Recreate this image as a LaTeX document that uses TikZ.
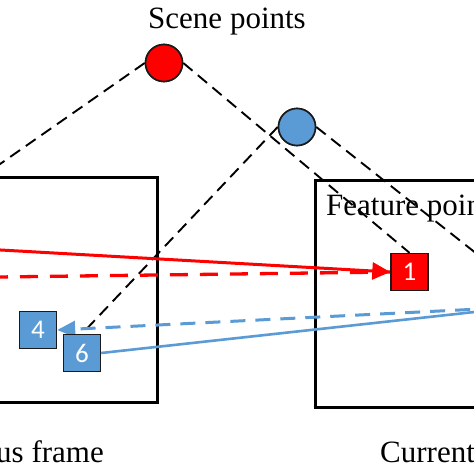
\documentclass[tikz,border=0pt]{standalone}
\usepackage{fontspec}
\setmainfont{Liberation Serif}
\newfontfamily\digitfont{Carlito}
\usetikzlibrary{arrows.meta}
\definecolor{myred}{HTML}{FF0000}
\definecolor{myblue}{HTML}{5B9BD5}
\definecolor{edgegray}{HTML}{1A1A1A}
\begin{document}
\begin{tikzpicture}[x=1pt,y=-1pt,
  frame/.style={draw=black, line width=3pt, inner sep=0pt},
  proj/.style={draw=black, line width=1.9pt, dash pattern=on 12pt off 7pt},
  scenept/.style={circle, draw=edgegray, line width=1.6pt, minimum size=37pt, inner sep=0pt},
  feat/.style={rectangle, draw=edgegray, line width=1.4pt, minimum size=37pt, inner sep=0pt, text=white, font=\digitfont\fontsize{27}{27}\selectfont},
  lbl/.style={font=\fontsize{31}{31}\selectfont, inner sep=0pt},
  redsolid/.style={draw=myred, line width=3pt},
  reddash/.style={draw=myred, line width=3.3pt, dash pattern=on 18pt off 12pt},
  bluesolid/.style={draw=myblue, line width=2.6pt},
  bluedash/.style={draw=myblue, line width=3pt, dash pattern=on 15pt off 10pt}
]
\useasboundingbox (0,0) rectangle (474,474);
\clip (0,0) rectangle (474,474);
\fill[white] (0,0) rectangle (474,474);

% frames
\node[frame, minimum width=207pt, minimum height=225pt] (prev) at (53.5,289.5) {};
\node[frame, minimum width=245pt, minimum height=227pt] (curr) at (437.5,293.5) {};

% labels
\node[lbl, anchor=base] (scene) at (227,28) {Scene points};
\node[lbl, anchor=base west] (feattxt) at (326,215) {Feature points};
\node[lbl, anchor=base east] (prevtxt) at (104,462) {Previous frame};
\node[lbl, anchor=base west] (currtxt) at (380,462) {Current frame};

% nodes
\node[scenept, fill=myred] (red) at (164,63) {};
\node[scenept, fill=myblue] (blue) at (297,127) {};
\node[feat, fill=myred] (sq1) at (409.5,272) {1};
\node[feat, fill=myblue] (sq4) at (38,330) {4};
\node[feat, fill=myblue] (sq6) at (82,353) {6};

% off-picture ends
\coordinate (redL) at (-30,185);
\coordinate (blueR) at (520,288);
\coordinate (rsrc) at (-40,247.7);
\coordinate (rdsrc) at (-40,277.5);
\coordinate (bsrc) at (520,307);

% projection lines
\draw[proj] (red.west) -- (redL);
\draw[proj] (red.east) -- (sq1.north);
\draw[proj] (blue.west) -- (sq6.north);
\draw[proj] (blue.east) -- (blueR);

% motion lines
\draw[reddash] (rdsrc) -- (sq1.west);
\draw[redsolid, -{Triangle[length=18pt,width=17pt]}] (rsrc) -- (sq1.west);
\draw[bluesolid] (sq6.east) -- (bsrc);
\draw[bluedash, -{Triangle[length=18pt,width=16pt]}] (bsrc) -- (sq4.east);

% redraw nodes on top
\node[scenept, fill=myred] at (red) {};
\node[scenept, fill=myblue] at (blue) {};
\node[feat, fill=myred] at (sq1) {1};
\node[feat, fill=myblue] at (sq4) {4};
\node[feat, fill=myblue] at (sq6) {6};
\end{tikzpicture}
\end{document}
